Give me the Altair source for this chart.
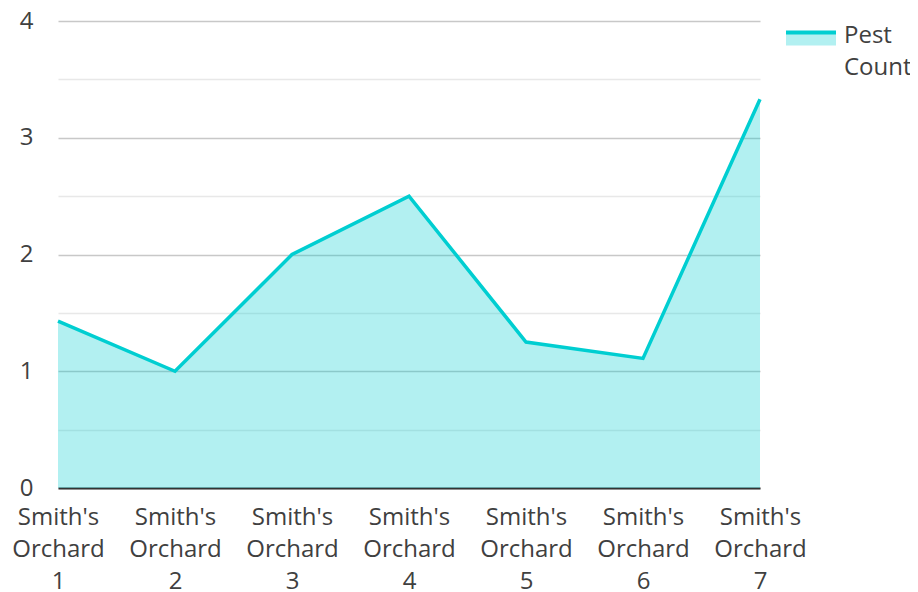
import altair as alt
import pandas as pd

categories = ["Smith's Orchard 1", "Smith's Orchard 2", "Smith's Orchard 3",
              "Smith's Orchard 4", "Smith's Orchard 5", "Smith's Orchard 6",
              "Smith's Orchard 7"]
pest_count = [1.43, 1.0, 2.0, 2.5, 1.25, 1.11, 3.33]
series_name = "Pest Count"
y_ticks = [0, 0.5, 1, 1.5, 2, 2.5, 3, 3.5, 4]

df = pd.DataFrame({"orchard": categories, "value": pest_count, "series": series_name})

FONT = "Open Sans"
TEXT = "#404040"
LINE = "#00ced1"

x_enc = alt.X("orchard:N", sort=None, title=None,
              scale=alt.Scale(type="point", padding=0),
              axis=alt.Axis(labelAngle=0, labelExpr="split(datum.label, ' ')",
                            labelLineHeight=32, labelFontSize=24, labelFont=FONT,
                            labelColor=TEXT, labelPadding=17, ticks=False,
                            domainColor="#333333", domainWidth=2, grid=False,
                            labelLimit=0))
y_enc = alt.Y("value:Q", title=None,
              scale=alt.Scale(domain=[0, 4], nice=False),
              axis=alt.Axis(values=y_ticks, domain=False, ticks=False, format="~g",
                            labelExpr="datum.value % 1 === 0 ? datum.label : ''",
                            labelFontSize=24, labelFont=FONT, labelColor=TEXT,
                            labelPadding=25, gridWidth=1.5,
                            gridColor=alt.condition("datum.value % 1 === 0",
                                                    alt.value("#c8c8c8"),
                                                    alt.value("#e8e8e8"))))

area = alt.Chart(df).mark_area(color=LINE, opacity=0.3).encode(x=x_enc, y=y_enc)

line = alt.Chart(df).mark_line(strokeWidth=3.5).encode(
    x=x_enc, y=y_enc,
    stroke=alt.Stroke("series:N", scale=alt.Scale(range=[LINE]),
                      legend=alt.Legend(title=None, orient="none",
                                        legendX=726, legendY=-12,
                                        symbolType="M-1,-0.14L1,-0.14L1,0.38L-1,0.38Z",
                                        symbolSize=2500, symbolFillColor="#b2f0f1",
                                        symbolDash=[50, 100], symbolStrokeWidth=4,
                                        labelExpr="split(datum.label, ' ')",
                                        labelFontSize=24, labelFont=FONT,
                                        labelColor=TEXT,
                                        labelOffset=6, padding=0,
                                        labelLimit=0)))

chart = alt.layer(area, line).properties(
    width=702, height=467,
    autosize=alt.AutoSizeParams(type="none"),
    padding={"left": 50, "top": 13, "right": 150, "bottom": 104},
).configure(
    style={"guide-label": {"lineHeight": 32}}
).configure_view(strokeWidth=0)

chart.save("out.html", embed_options={"renderer": "svg", "actions": False})
